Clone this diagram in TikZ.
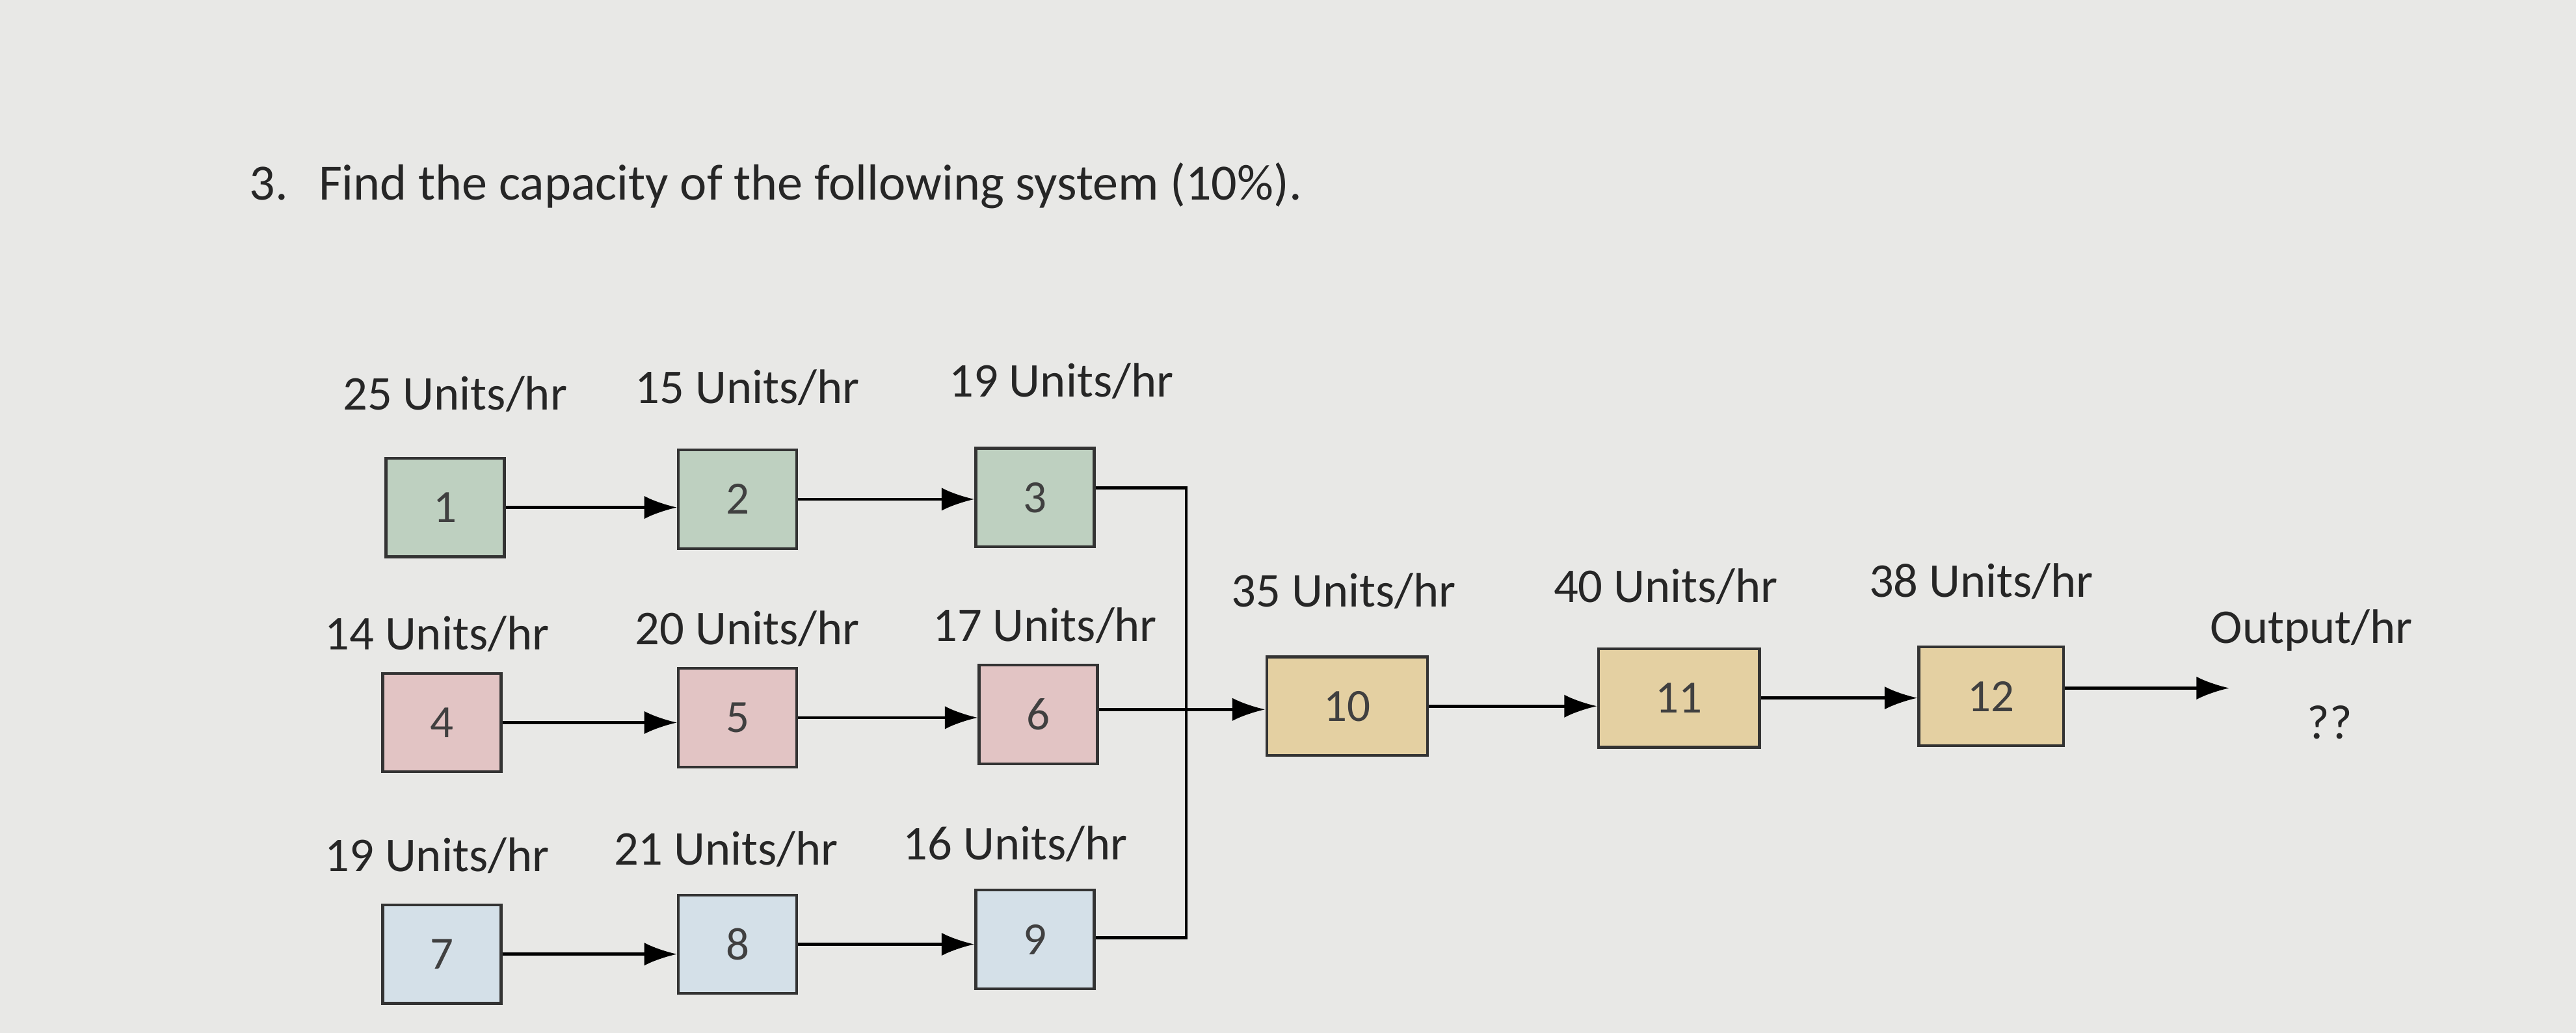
\documentclass[tikz,border=0pt]{standalone}
\usepackage{fontspec}
\setmainfont{Carlito}
\usetikzlibrary{arrows.meta}
\definecolor{bg}{RGB}{232,232,230}
\definecolor{gbox}{RGB}{190,208,192}
\definecolor{pbox}{RGB}{226,196,196}
\definecolor{bbox}{RGB}{212,224,232}
\definecolor{tbox}{RGB}{228,208,162}
\begin{document}
\begin{tikzpicture}[x=0.025cm,y=-0.025cm,
  bx/.style={draw=black!80,line width=1.2pt,minimum width=1.8cm,minimum height=1.5cm,font=\fontsize{20}{24}\selectfont,text=black!75},
  wb/.style={bx,minimum width=2.45cm},
  lb/.style={font=\fontsize{21}{25}\selectfont,text=black!85},
  ar/.style={-{Latex[length=5mm,width=3.5mm]},line width=1.3pt},
  ln/.style={line width=1.3pt}]
\fill[bg] (0,0) rectangle (1568,629);
\useasboundingbox (0,0) rectangle (1568,629);
\node[anchor=west,font=\fontsize{22}{26}\selectfont,text=black!85] (title) at (147,113) {3.\hspace{0.6em}Find the capacity of the following system (10\%).};
\node[bx,fill=gbox] (n1) at (271,309) {1};
\node[bx,fill=gbox] (n2) at (449,304) {2};
\node[bx,fill=gbox] (n3) at (630,303) {3};
\node[bx,fill=pbox] (n4) at (269,440) {4};
\node[bx,fill=pbox] (n5) at (449,437) {5};
\node[bx,fill=pbox] (n6) at (632,435) {6};
\node[bx,fill=bbox] (n7) at (269,581) {7};
\node[bx,fill=bbox] (n8) at (449,575) {8};
\node[bx,fill=bbox] (n9) at (630,572) {9};
\node[wb,fill=tbox] (n10) at (820,430) {10};
\node[wb,fill=tbox] (n11) at (1022,425) {11};
\node[wb,fill=tbox,minimum width=2.2cm] (n12) at (1212,424) {12};
\coordinate (top) at (722,297);
\coordinate (mid) at (722,432);
\coordinate (bot) at (722,571);
\coordinate (out) at (1357,419);
\draw[ar] (n1.east) -- (n2.west |- n1.east);
\draw[ar] (n2.east) -- (n3.west |- n2.east);
\draw[ar] (n4.east) -- (n5.west |- n4.east);
\draw[ar] (n5.east) -- (n6.west |- n5.east);
\draw[ar] (n7.east) -- (n8.west |- n7.east);
\draw[ar] (n8.east) -- (n9.west |- n8.east);
\draw[ln] (n3.east |- top) -- (top) -- (bot) -- (n9.east |- bot);
\draw[ln] (n6.east |- mid) -- (mid);
\draw[ar] (mid) -- (n10.west |- mid);
\draw[ar] (n10.east) -- (n11.west |- n10.east);
\draw[ar] (n11.east) -- (n12.west |- n11.east);
\draw[ar] (n12.east |- out) -- (out);
\node[lb] (l1) at (277,240) {25 Units/hr};
\node[lb] (l2) at (455,236) {15 Units/hr};
\node[lb] (l3) at (646,232) {19 Units/hr};
\node[lb] (l4) at (266,386) {14 Units/hr};
\node[lb] (l5) at (455,383) {20 Units/hr};
\node[lb] (l6) at (636,381) {17 Units/hr};
\node[lb] (l7) at (266,521) {19 Units/hr};
\node[lb] (l8) at (442,517) {21 Units/hr};
\node[lb] (l9) at (618,514) {16 Units/hr};
\node[lb] (l10) at (818,360) {35 Units/hr};
\node[lb] (l11) at (1014,357) {40 Units/hr};
\node[lb] (l12) at (1206,354) {38 Units/hr};
\node[lb] (lo) at (1407,384) {Output/hr};
\node[lb] (lq) at (1418,440) {??};
\end{tikzpicture}
\end{document}
